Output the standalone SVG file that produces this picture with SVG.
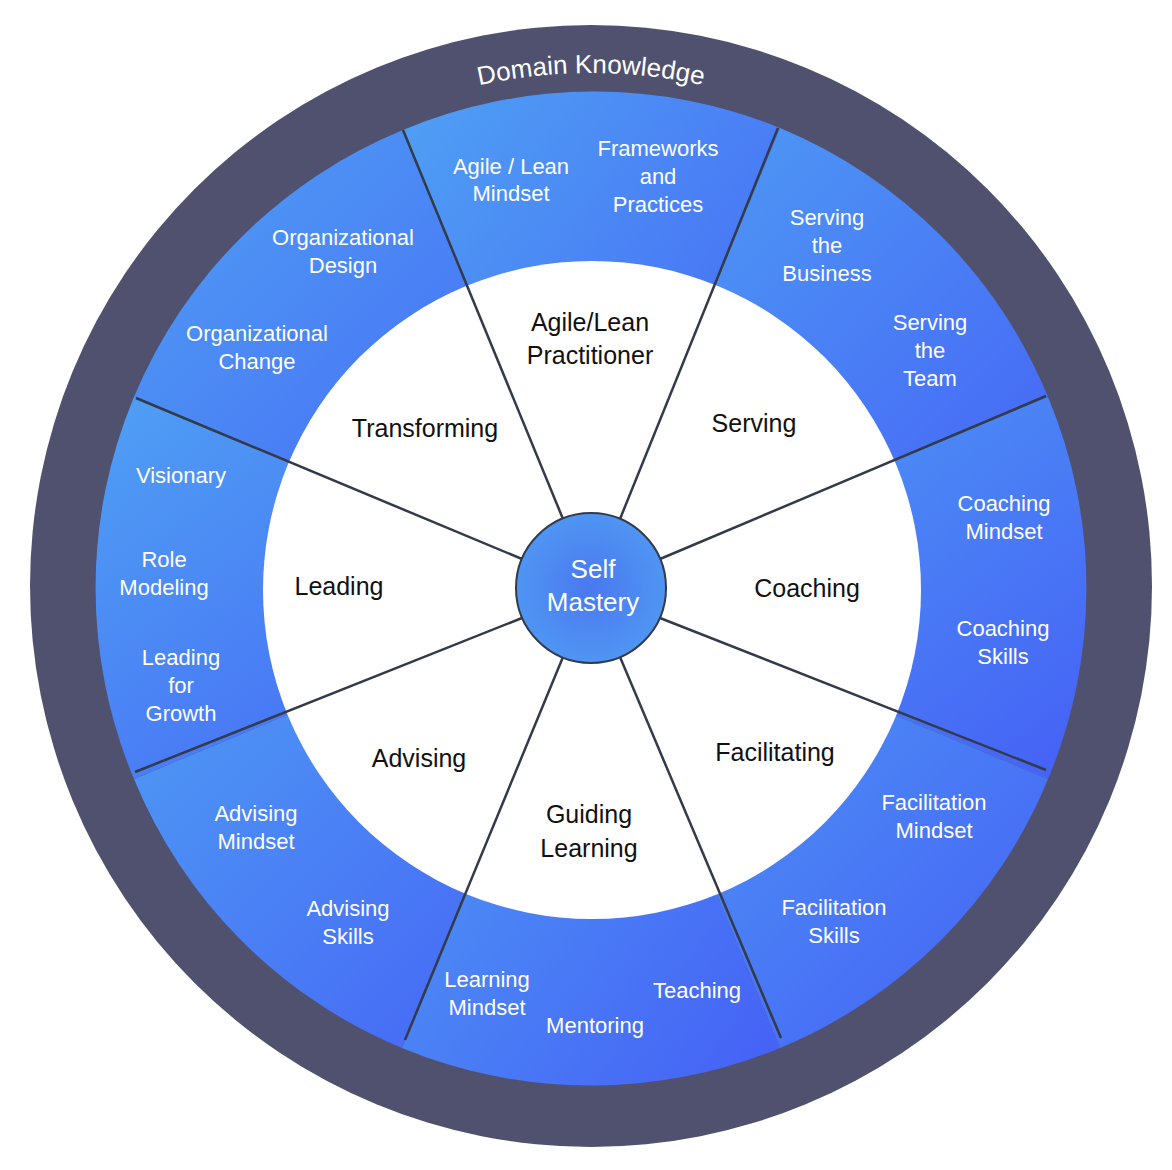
<svg xmlns="http://www.w3.org/2000/svg" width="1172" height="1170" viewBox="0 0 1172 1170">
<defs>
<linearGradient id="g" x1="0" y1="0" x2="1" y2="1"><stop offset="0" stop-color="#4fa0f4"/><stop offset="1" stop-color="#4560f6"/></linearGradient>
<radialGradient id="c" cx="0.5" cy="0.5" r="0.5"><stop offset="0" stop-color="#4a78f0"/><stop offset="1" stop-color="#4f95f3"/></radialGradient>
<path id="arc" d="M 76 588 A 515 515 0 0 1 1106 588" fill="none"/>
<style>
.w{font-family:"Liberation Sans",Arial,sans-serif;font-size:22px;fill:#fff;text-anchor:middle}
.b{font-family:"Liberation Sans",Arial,sans-serif;font-size:25px;fill:#111;text-anchor:middle}
.ln{stroke:#333a4a;stroke-width:2.5}
</style>
</defs>
<circle cx="591" cy="586" r="561" fill="#50516f"/>
<g id="sectors">
<path d="M591 588 L403 130 A494 494 0 0 1 780 128 Z" fill="url(#g)"/>
<path d="M591 588 L780 128 A494 494 0 0 1 1048 397 Z" fill="url(#g)"/>
<path d="M591 588 L1048 397 A494 494 0 0 1 1048 779 Z" fill="url(#g)"/>
<path d="M591 588 L1048 779 A494 494 0 0 1 780 1048 Z" fill="url(#g)"/>
<path d="M591 588 L780 1048 A494 494 0 0 1 402 1048 Z" fill="url(#g)"/>
<path d="M591 588 L402 1048 A494 494 0 0 1 134 779 Z" fill="url(#g)"/>
<path d="M591 588 L134 779 A494 494 0 0 1 134 397 Z" fill="url(#g)"/>
<path d="M591 588 L134 397 A494 494 0 0 1 403 130 Z" fill="url(#g)"/>
</g>
<circle cx="592" cy="590" r="329" fill="#fff"/>
<g id="connectors">
<line class="ln" x1="563" y1="519" x2="403" y2="130"/>
<line class="ln" x1="620" y1="519" x2="778" y2="128"/>
<line class="ln" x1="660" y1="559" x2="1046" y2="396"/>
<line class="ln" x1="660" y1="618" x2="1046" y2="770"/>
<line class="ln" x1="620" y1="657" x2="781" y2="1038"/>
<line class="ln" x1="563" y1="657" x2="405" y2="1040"/>
<line class="ln" x1="522" y1="618" x2="135" y2="772"/>
<line class="ln" x1="522" y1="559" x2="136" y2="398"/>
</g>
<g id="self"><circle cx="591" cy="588" r="75" fill="url(#c)" stroke="#333a4a" stroke-width="2"/>
<text class="w" style="font-size:26px" x="593" y="578">Self</text><text class="w" style="font-size:26px" x="593" y="611">Mastery</text></g>
<text style="font-family:'Liberation Sans',Arial,sans-serif;font-size:26px;fill:#fff" text-anchor="middle"><textPath href="#arc" startOffset="50%">Domain Knowledge</textPath></text>
<g id="inner">
<text class="b" x="590" y="331">Agile/Lean</text><text class="b" x="590" y="364">Practitioner</text>
<text class="b" x="425" y="437">Transforming</text>
<text class="b" x="754" y="432">Serving</text>
<text class="b" x="339" y="595">Leading</text>
<text class="b" x="807" y="597">Coaching</text>
<text class="b" x="419" y="767">Advising</text>
<text class="b" x="775" y="761">Facilitating</text>
<text class="b" x="589" y="823">Guiding</text><text class="b" x="589" y="857">Learning</text>
</g>
<g id="outer">
<text class="w" x="511" y="174">Agile / Lean</text><text class="w" x="511" y="201">Mindset</text>
<text class="w" x="658" y="156">Frameworks</text><text class="w" x="658" y="184">and</text><text class="w" x="658" y="212">Practices</text>
<text class="w" x="827" y="225">Serving</text><text class="w" x="827" y="253">the</text><text class="w" x="827" y="281">Business</text>
<text class="w" x="930" y="330">Serving</text><text class="w" x="930" y="358">the</text><text class="w" x="930" y="386">Team</text>
<text class="w" x="343" y="245">Organizational</text><text class="w" x="343" y="273">Design</text>
<text class="w" x="257" y="341">Organizational</text><text class="w" x="257" y="369">Change</text>
<text class="w" x="181" y="483">Visionary</text>
<text class="w" x="164" y="567">Role</text><text class="w" x="164" y="595">Modeling</text>
<text class="w" x="181" y="665">Leading</text><text class="w" x="181" y="693">for</text><text class="w" x="181" y="721">Growth</text>
<text class="w" x="1004" y="511">Coaching</text><text class="w" x="1004" y="539">Mindset</text>
<text class="w" x="1003" y="636">Coaching</text><text class="w" x="1003" y="664">Skills</text>
<text class="w" x="934" y="810">Facilitation</text><text class="w" x="934" y="838">Mindset</text>
<text class="w" x="834" y="915">Facilitation</text><text class="w" x="834" y="943">Skills</text>
<text class="w" x="256" y="821">Advising</text><text class="w" x="256" y="849">Mindset</text>
<text class="w" x="348" y="916">Advising</text><text class="w" x="348" y="944">Skills</text>
<text class="w" x="487" y="987">Learning</text><text class="w" x="487" y="1015">Mindset</text>
<text class="w" x="697" y="998">Teaching</text>
<text class="w" x="595" y="1033">Mentoring</text>
</g>
</svg>
